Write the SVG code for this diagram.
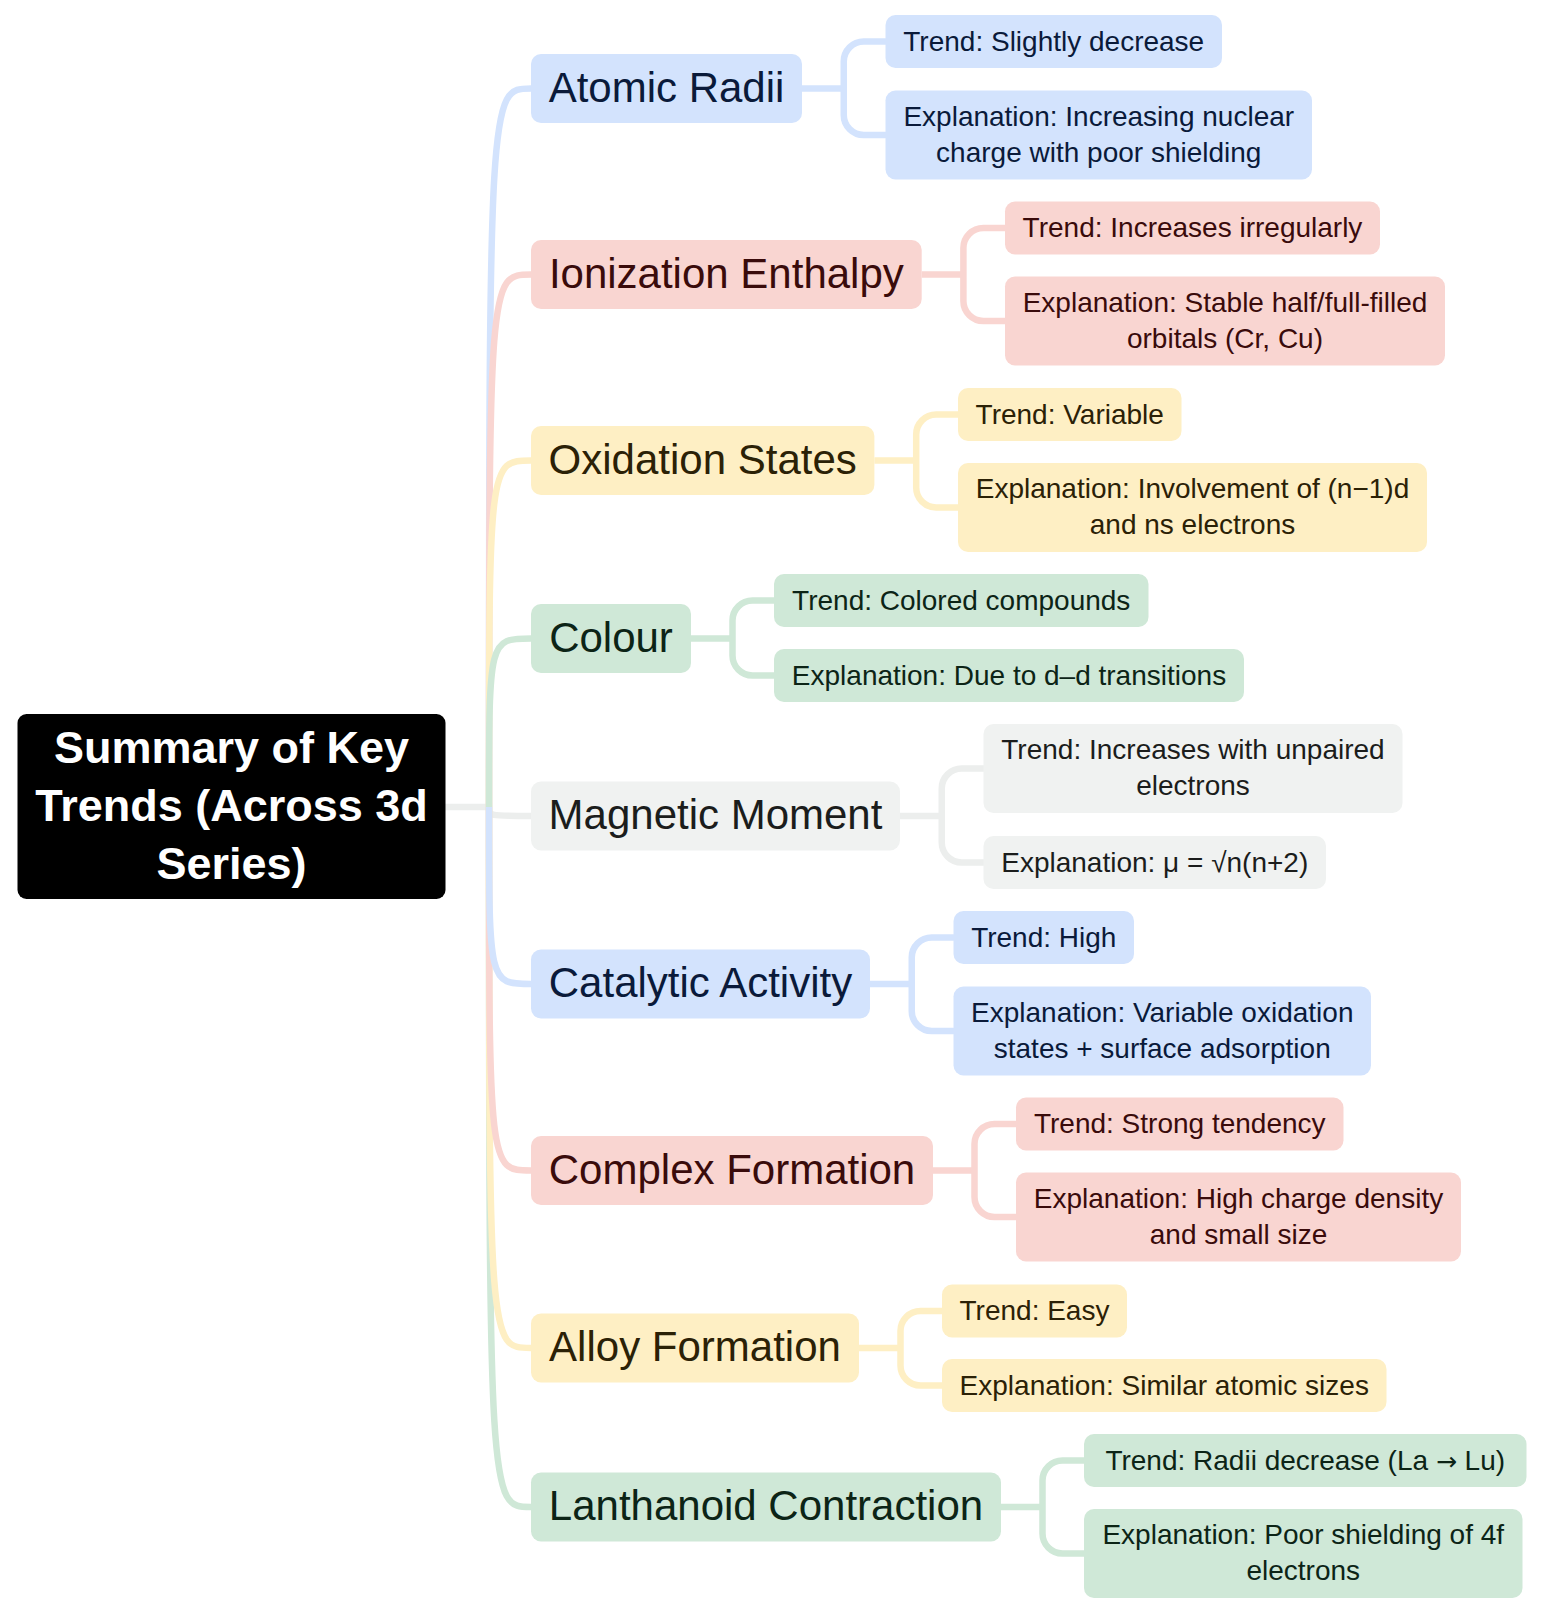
<svg xmlns="http://www.w3.org/2000/svg" width="1541" height="1613" viewBox="0 0 1541 1613">
<style>
text{font-family:"Liberation Sans",Arial,Helvetica,sans-serif;text-anchor:middle}
.root rect{fill:#000}
.root text{fill:#fff;font-size:45px;font-weight:bold}
.l1 text{font-size:42px}
.l2 text{font-size:28px}
.blue rect{fill:#d3e3fd}.blue text{fill:#0a1a3a}
.red rect{fill:#f9d5d1}.red text{fill:#3a0b0b}
.yel rect{fill:#feefc4}.yel text{fill:#2b2106}
.grn rect{fill:#cfe8d7}.grn text{fill:#0c2416}
.gry rect{fill:#f0f2f1}.gry text{fill:#1b1d1c}
.arr{font-family:"DejaVu Sans",sans-serif;font-size:25px}
#links path{fill:none;stroke-width:6.5}
.sb{stroke:#d3e3fd}.sr{stroke:#f9d5d1}.sy{stroke:#feefc4}.sg{stroke:#cfe8d7}.sx{stroke:#eceeed}
</style>
<g id="links">
<path class="sx" d="M445,807 H489"/>
<path class="sx" d="M489,807 C489,816 489,816 531,816"/>
<path class="sb" d="M489,807 C489,88.5 489,88.5 531,88.5"/>
<path class="sr" d="M489,807 C489,274.5 489,274.5 531,274.5"/>
<path class="sy" d="M489,807 C489,460.5 489,460.5 531,460.5"/>
<path class="sg" d="M489,807 C489,638.5 489,638.5 531,638.5"/>
<path class="sg" d="M489,807 C489,1507 489,1507 531,1507"/>
<path class="sy" d="M489,807 C489,1348 489,1348 531,1348"/>
<path class="sr" d="M489,807 C489,1170.5 489,1170.5 531,1170.5"/>
<path class="sb" d="M489,807 C489,984 489,984 531,984"/>
<path class="sb" d="M802,88.5 H843.75 V61.5 A20,20 0 0 1 863.75,41.5 H886 M843.75,88.5 V115 A20,20 0 0 0 863.75,135 H886"/>
<path class="sr" d="M921.7,274.5 H963.4 V248 A20,20 0 0 1 983.4,228 H1006 M963.4,274.5 V301 A20,20 0 0 0 983.4,321 H1006"/>
<path class="sy" d="M874.4,460.5 H916.2 V434.5 A20,20 0 0 1 936.2,414.5 H959 M916.2,460.5 V487.5 A20,20 0 0 0 936.2,507.5 H959"/>
<path class="sg" d="M691,638.5 H732.5 V620.5 A20,20 0 0 1 752.5,600.5 H775 M732.5,638.5 V655.5 A20,20 0 0 0 752.5,675.5 H775"/>
<path class="sx" d="M900,816 H941.75 V788.5 A20,20 0 0 1 961.75,768.5 H984 M941.75,816 V842.5 A20,20 0 0 0 961.75,862.5 H984"/>
<path class="sb" d="M870,984 H911.75 V957.5 A20,20 0 0 1 931.75,937.5 H954 M911.75,984 V1011 A20,20 0 0 0 931.75,1031 H954"/>
<path class="sr" d="M933,1170.5 H974.5 V1144 A20,20 0 0 1 994.5,1124 H1017 M974.5,1170.5 V1197 A20,20 0 0 0 994.5,1217 H1017"/>
<path class="sy" d="M859,1348 H900.5 V1331 A20,20 0 0 1 920.5,1311 H943 M900.5,1348 V1365.5 A20,20 0 0 0 920.5,1385.5 H943"/>
<path class="sg" d="M1001,1507 H1042.5 V1480.5 A20,20 0 0 1 1062.5,1460.5 H1085 M1042.5,1507 V1533.5 A20,20 0 0 0 1062.5,1553.5 H1085"/>
</g>
<g id="root" class="root"><rect x="17.5" y="714" width="428" height="185" rx="9"/>
<text x="231.5" y="763">Summary of Key</text><text x="231.5" y="821">Trends (Across 3d</text><text x="231.5" y="879">Series)</text></g>

<g id="atomic-radii" class="l1 blue"><rect x="531" y="54" width="271" height="69" rx="10"/><text x="666.5" y="101.5">Atomic Radii</text></g>
<g id="ionization-enthalpy" class="l1 red"><rect x="531" y="240" width="390.7" height="69" rx="10"/><text x="726.35" y="287.5">Ionization Enthalpy</text></g>
<g id="oxidation-states" class="l1 yel"><rect x="531" y="426" width="343.4" height="69" rx="10"/><text x="702.7" y="473.5">Oxidation States</text></g>
<g id="colour" class="l1 grn"><rect x="531" y="604" width="160" height="69" rx="10"/><text x="611" y="651.5">Colour</text></g>
<g id="magnetic-moment" class="l1 gry"><rect x="531" y="781.5" width="369" height="69" rx="10"/><text x="715.5" y="829">Magnetic Moment</text></g>
<g id="catalytic-activity" class="l1 blue"><rect x="531" y="949.5" width="339" height="69" rx="10"/><text x="700.5" y="997">Catalytic Activity</text></g>
<g id="complex-formation" class="l1 red"><rect x="531" y="1136" width="402" height="69" rx="10"/><text x="732" y="1183.5">Complex Formation</text></g>
<g id="alloy-formation" class="l1 yel"><rect x="531" y="1313.5" width="328" height="69" rx="10"/><text x="695" y="1361">Alloy Formation</text></g>
<g id="lanthanoid-contraction" class="l1 grn"><rect x="531" y="1472.5" width="470" height="69" rx="10"/><text x="766" y="1520">Lanthanoid Contraction</text></g>

<g id="ar-trend" class="l2 blue"><rect x="885.5" y="15" width="336.5" height="53" rx="10"/><text x="1053.75" y="50.5">Trend: Slightly decrease</text></g>
<g id="ar-expl" class="l2 blue"><rect x="885.5" y="90.5" width="426.5" height="89" rx="10"/><text x="1098.75" y="125.5">Explanation: Increasing nuclear</text><text x="1098.75" y="161.5">charge with poor shielding</text></g>
<g id="ie-trend" class="l2 red"><rect x="1005" y="201.5" width="375" height="53" rx="10"/><text x="1192.5" y="237">Trend: Increases irregularly</text></g>
<g id="ie-expl" class="l2 red"><rect x="1005" y="276.5" width="440" height="89" rx="10"/><text x="1225" y="311.5">Explanation: Stable half/full-filled</text><text x="1225" y="347.5">orbitals (Cr, Cu)</text></g>
<g id="os-trend" class="l2 yel"><rect x="958" y="388" width="223.5" height="53" rx="10"/><text x="1069.75" y="423.5">Trend: Variable</text></g>
<g id="os-expl" class="l2 yel"><rect x="958" y="463" width="469" height="89" rx="10"/><text x="1192.5" y="498">Explanation: Involvement of (n−1)d</text><text x="1192.5" y="534">and ns electrons</text></g>
<g id="c-trend" class="l2 grn"><rect x="774" y="574" width="374.5" height="53" rx="10"/><text x="961.25" y="609.5">Trend: Colored compounds</text></g>
<g id="c-expl" class="l2 grn"><rect x="774" y="649" width="470" height="53" rx="10"/><text x="1009" y="684.5">Explanation: Due to d–d transitions</text></g>
<g id="mm-trend" class="l2 gry"><rect x="983.5" y="724" width="419" height="89" rx="10"/><text x="1193" y="759">Trend: Increases with unpaired</text><text x="1193" y="795">electrons</text></g>
<g id="mm-expl" class="l2 gry"><rect x="983.5" y="836" width="342.5" height="53" rx="10"/><text x="1154.75" y="871.5">Explanation: μ = √n(n+2)</text></g>
<g id="ca-trend" class="l2 blue"><rect x="953.5" y="911" width="180.5" height="53" rx="10"/><text x="1043.75" y="946.5">Trend: High</text></g>
<g id="ca-expl" class="l2 blue"><rect x="953.5" y="986.5" width="417.5" height="89" rx="10"/><text x="1162.25" y="1021.5">Explanation: Variable oxidation</text><text x="1162.25" y="1057.5">states + surface adsorption</text></g>
<g id="cf-trend" class="l2 red"><rect x="1016" y="1097.5" width="327.5" height="53" rx="10"/><text x="1179.75" y="1133">Trend: Strong tendency</text></g>
<g id="cf-expl" class="l2 red"><rect x="1016" y="1172.5" width="445" height="89" rx="10"/><text x="1238.5" y="1207.5">Explanation: High charge density</text><text x="1238.5" y="1243.5">and small size</text></g>
<g id="af-trend" class="l2 yel"><rect x="942" y="1284.5" width="185" height="53" rx="10"/><text x="1034.5" y="1320">Trend: Easy</text></g>
<g id="af-expl" class="l2 yel"><rect x="942" y="1359" width="444.5" height="53" rx="10"/><text x="1164.25" y="1394.5">Explanation: Similar atomic sizes</text></g>
<g id="lc-trend" class="l2 grn"><rect x="1084" y="1434" width="442.5" height="53" rx="10"/><text x="1305.25" y="1469.5">Trend: Radii decrease (La <tspan class="arr">→</tspan> Lu)</text></g>
<g id="lc-expl" class="l2 grn"><rect x="1084" y="1509" width="438.5" height="89" rx="10"/><text x="1303.25" y="1544">Explanation: Poor shielding of 4f</text><text x="1303.25" y="1580">electrons</text></g>
</svg>
